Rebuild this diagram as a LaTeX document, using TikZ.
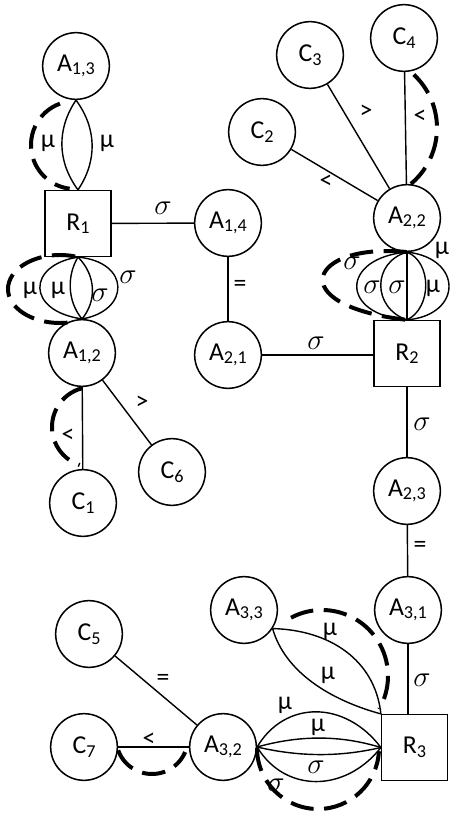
\documentclass[tikz,border=0pt]{standalone}
\usepackage{fontspec}
\setmainfont{Carlito}
\newcommand{\lowix}[1]{\raisebox{-3pt}{\fontsize{15.5}{15.5}\selectfont #1}}
\newcommand{\sg}{{\fontsize{25}{25}\selectfont$\sigma$}}
\begin{document}
\begin{tikzpicture}[x=0.03cm, y=0.03cm,
    every node/.style={font=\fontsize{22}{24}\selectfont},
    atom/.style={draw, circle, line width=1.3pt, minimum size=2cm, inner sep=0pt},
    rel/.style={draw, rectangle, line width=1.3pt, minimum size=1.97cm, inner sep=0pt},
    link/.style={line width=1.2pt},
    hull/.style={line width=3.4pt, dash pattern=on 20pt off 9pt}]
    \useasboundingbox (0,0) rectangle (474,-824);
    % relations and atoms
    \node[rel] (R1) at (78,-223.5) {R\lowix{1}};
    \node[rel] (R2) at (407,-353.5) {R\lowix{2}};
    \node[rel] (R3) at (414.5,-747.5) {R\lowix{3}};
    \node[atom] (A13) at (76,-66) {A\lowix{1,3}};
    \node[atom] (A14) at (228,-223) {A\lowix{1,4}};
    \node[atom] (A12) at (82,-353) {A\lowix{1,2}};
    \node[atom] (A21) at (228,-355) {A\lowix{2,1}};
    \node[atom] (A22) at (407,-218) {A\lowix{2,2}};
    \node[atom] (A23) at (407,-491) {A\lowix{2,3}};
    \node[atom] (A31) at (408,-610) {A\lowix{3,1}};
    \node[atom] (A32) at (223,-747) {A\lowix{3,2}};
    \node[atom] (A33) at (244,-610) {A\lowix{3,3}};
    % constants
    \node[atom] (C1) at (83,-503) {C\lowix{1}};
    \node[atom] (C2) at (262,-132) {C\lowix{2}};
    \node[atom] (C3) at (310,-55) {C\lowix{3}};
    \node[atom] (C4) at (404,-38) {C\lowix{4}};
    \node[atom] (C5) at (89,-634) {C\lowix{5}};
    \node[atom] (C6) at (172,-472) {C\lowix{6}};
    \node[atom] (C7) at (84,-747) {C\lowix{7}};

    % R1 and its atoms
    \draw[link] (A13.south) to[bend right=35] (R1.north);
    \draw[link] (A13.south) to[bend left=35] (R1.north);
    \draw[link] (R1) -- (A14);
    \draw[link] (R1.south) .. controls +(-51,-8) and +(-56,8) .. (A12.north);
    \draw[link] (R1.south) .. controls +(-11,-18) and +(-15,18) .. (A12.north);
    \draw[link] (R1.south) .. controls +(18,-18) and +(15,18) .. (A12.north);
    \draw[link] (R1.south) .. controls +(53,-5) and +(48,8) .. (A12.north);
    \draw[link] (A12) -- (C1);
    \draw[link] (A12) -- (C6);
    \draw[link] (A14) -- (A21);
    \draw[link] (A21.east) -- (A21.east -| R2.west);

    % R2 and its atoms
    \draw[link] (A22) -- (C2);
    \draw[link] (A22) -- (C3);
    \draw[link] (A22) -- (C4);
    \draw[link] (A22.south) .. controls +(-67,-6) and +(-67,5) .. (R2.north);
    \draw[link] (A22.south) .. controls +(-35,-10) and +(-35,12) .. (R2.north);
    \draw[link] (A22.south) -- (R2.north);
    \draw[link] (A22.south) .. controls +(25,-10) and +(25,12) .. (R2.north);
    \draw[link] (A22.south) .. controls +(56,-6) and +(56,5) .. (R2.north);
    \draw[link] (R2) -- (A23);
    \draw[link] (A23) -- (A31);

    % R3 and its atoms
    \draw[link] (A31.south) -- (A31.south |- R3.north);
    \draw[link] (A33.-33) .. controls (330,-630) and (375,-660) .. (R3.north west);
    \draw[link] (A33.-33) .. controls (285,-672) and (330,-700) .. (R3.north west);
    \draw[link] (A32.east) .. controls (285,-700) and (345,-700) .. (R3.west);
    \draw[link] (A32.east) .. controls (300,-735) and (340,-735) .. (R3.west);
    \draw[link] (A32.east) .. controls (300,-757) and (340,-757) .. (R3.west);
    \draw[link] (A32.east) .. controls (285,-793) and (345,-793) .. (R3.west);
    \draw[link] (A32) -- (C5);
    \draw[link] (A32) -- (C7);

    % dashed groups
    \draw[hull] (75,-145) ++(110:44) arc[start angle=110, end angle=263, radius=44];
    \draw[hull] (60,-289) ++(73:52 and 34) arc[start angle=73, end angle=287, x radius=52, y radius=34];
    \draw[hull] (92,-427) ++(104:40) arc[start angle=104, end angle=252, radius=40];
    \draw[hull] (364,-128) ++(47:73) arc[start angle=47, end angle=-50, radius=73];
    \draw[hull] (A22.south) .. controls (310,-242) and (280,-305) .. (R2.north);
    \draw[hull] (322,-676) ++(118:66) arc[start angle=118, end angle=-30, radius=66];
    \draw[hull] (318,-748) ++(180:61) arc[start angle=180, end angle=357, radius=61];
    \draw[hull] (152,-738) ++(200:36) arc[start angle=200, end angle=337, radius=36];

    % labels
    \node (l1) at (48,-143) {μ};
    \node (l2) at (107,-143) {μ};
    \node (l3) at (163,-208) {\sg};
    \node (l4) at (240,-286) {=};
    \node (l5) at (316,-343) {\sg};
    \node (l6) at (30,-290) {μ};
    \node (l7) at (58,-290) {μ};
    \node (l8) at (100,-295) {\sg};
    \node (l9) at (128,-277) {\sg};
    \node (l10) at (68,-436) {<};
    \node (l11) at (142,-403) {>};
    \node (l12) at (420,-117) {<};
    \node (l13) at (366,-112) {>};
    \node (l14) at (326,-182) {<};
    \node (l15) at (352,-263) {\sg};
    \node (l16) at (372,-287) {\sg};
    \node (l17) at (397,-287) {\sg};
    \node (l18) at (433,-288) {μ};
    \node (l19) at (442,-250) {μ};
    \node (l20) at (422,-424) {\sg};
    \node (l21) at (420,-547) {=};
    \node (l22) at (422,-680) {\sg};
    \node (l23) at (330,-631) {μ};
    \node (l24) at (328,-675) {μ};
    \node (l25) at (163,-680) {=};
    \node (l26) at (149,-740) {<};
    \node (l27) at (285,-705) {μ};
    \node (l28) at (318,-727) {μ};
    \node (l29) at (316,-767) {\sg};
    \node (l30) at (276,-785) {\sg};
\end{tikzpicture}
\end{document}
